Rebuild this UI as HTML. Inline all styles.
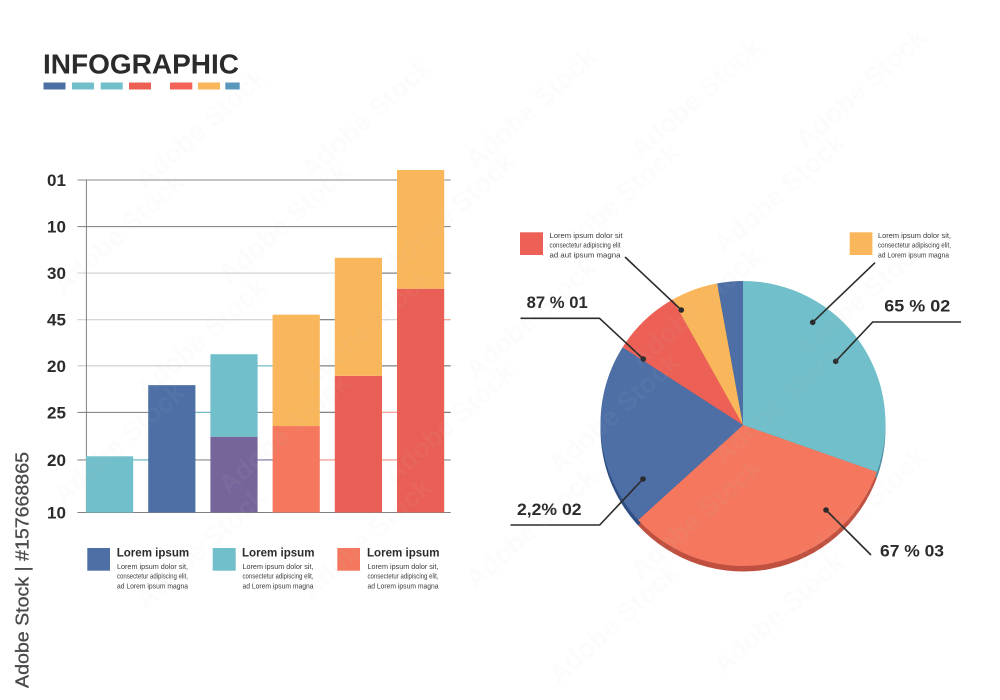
<!DOCTYPE html>
<html lang="en">
<head>
<meta charset="utf-8">
<title>Infographic</title>
<style>
html,body{margin:0;padding:0;background:#fff;width:1000px;height:700px;overflow:hidden}
svg{display:block;overflow:hidden}
text{font-family:"Liberation Sans",sans-serif}
.h{font-weight:700;fill:#2b2b2b}
.s{font-size:7px;fill:#3a3a3a}
.call{fill:none;stroke:#2b2b2b;stroke-width:1.6}
</style>
</head>
<body>
<svg id="root" xmlns="http://www.w3.org/2000/svg" width="1000" height="700" viewBox="0 0 1000 700">
  <g>
    <text class="h" x="43" y="73.3" font-size="28" textLength="196" lengthAdjust="spacingAndGlyphs">INFOGRAPHIC</text>
    <rect x="43.5" y="82.5" width="22" height="7" fill="#4d6fa6"/>
    <rect x="72" y="82.5" width="22" height="7" fill="#70bfca"/>
    <rect x="100.7" y="82.5" width="22" height="7" fill="#70bfca"/>
    <rect x="129" y="82.5" width="22" height="7" fill="#ec6055"/>
    <rect x="170" y="82.5" width="22.3" height="7" fill="#f3635a"/>
    <rect x="198" y="82.5" width="22" height="7" fill="#f9b65a"/>
    <rect x="225.3" y="82.5" width="14.4" height="7" fill="#5a97bd"/>
  </g>

  <g id="bar-chart"></g>

  <g>
    <g>
      <rect x="87.3" y="548" width="22.7" height="22.7" fill="#4d6fa6"/>
      <text class="h" x="116.7" y="556.5" font-size="12" textLength="72.5" lengthAdjust="spacingAndGlyphs">Lorem ipsum</text>
      <text class="s" x="117" y="569" textLength="71" lengthAdjust="spacingAndGlyphs">Lorem ipsum dolor sit,</text>
      <text class="s" x="117" y="578.5" textLength="71" lengthAdjust="spacingAndGlyphs">consectetur adipiscing elit,</text>
      <text class="s" x="117" y="588.5" textLength="71" lengthAdjust="spacingAndGlyphs">ad Lorem ipsum magna</text>
    </g>
    <g>
      <rect x="212.7" y="548" width="23" height="22.7" fill="#70bfca"/>
      <text class="h" x="242" y="556.5" font-size="12" textLength="72.5" lengthAdjust="spacingAndGlyphs">Lorem ipsum</text>
      <text class="s" x="242.5" y="569" textLength="71" lengthAdjust="spacingAndGlyphs">Lorem ipsum dolor sit,</text>
      <text class="s" x="242.5" y="578.5" textLength="71" lengthAdjust="spacingAndGlyphs">consectetur adipiscing elit,</text>
      <text class="s" x="242.5" y="588.5" textLength="71" lengthAdjust="spacingAndGlyphs">ad Lorem ipsum magna</text>
    </g>
    <g>
      <rect x="337.3" y="548" width="22.7" height="22.7" fill="#f4775e"/>
      <text class="h" x="367" y="556.5" font-size="12" textLength="72.5" lengthAdjust="spacingAndGlyphs">Lorem ipsum</text>
      <text class="s" x="367.5" y="569" textLength="71" lengthAdjust="spacingAndGlyphs">Lorem ipsum dolor sit,</text>
      <text class="s" x="367.5" y="578.5" textLength="71" lengthAdjust="spacingAndGlyphs">consectetur adipiscing elit,</text>
      <text class="s" x="367.5" y="588.5" textLength="71" lengthAdjust="spacingAndGlyphs">ad Lorem ipsum magna</text>
    </g>
  </g>

  <g id="pie-chart"></g>

  <g>
    <g>
      <rect x="520" y="232.3" width="23" height="22.7" fill="#ec6055"/>
      <text class="s" x="549.5" y="238" textLength="73" lengthAdjust="spacingAndGlyphs">Lorem ipsum dolor sit</text>
      <text class="s" x="549.5" y="247.5" textLength="71" lengthAdjust="spacingAndGlyphs">consectetur adipiscing elit</text>
      <text class="s" x="549.5" y="257.5" textLength="71" lengthAdjust="spacingAndGlyphs">ad aut ipsum magna</text>
    </g>
    <g>
      <rect x="849.7" y="232.3" width="22.7" height="22.7" fill="#f9b65a"/>
      <text class="s" x="878" y="238" textLength="73" lengthAdjust="spacingAndGlyphs">Lorem ipsum dolor sit,</text>
      <text class="s" x="878" y="247.5" textLength="73" lengthAdjust="spacingAndGlyphs">consectetur adipiscing elit,</text>
      <text class="s" x="878" y="257.5" textLength="71" lengthAdjust="spacingAndGlyphs">ad Lorem ipsum magna</text>
    </g>

    <polyline class="call" points="625,257 681.3,310"/>
    <circle cx="681.3" cy="310" r="2.8" fill="#2b2b2b"/>
    <polyline class="call" points="875,262.7 812.7,322.3"/>
    <circle cx="812.7" cy="322.3" r="2.8" fill="#2b2b2b"/>

    <text class="h" x="526.7" y="308" font-size="16.5" textLength="61" lengthAdjust="spacingAndGlyphs">87 % 01</text>
    <polyline class="call" points="520.5,318.3 599.5,318.3 643.3,359"/>
    <circle cx="643.3" cy="359" r="2.8" fill="#2b2b2b"/>

    <text class="h" x="884.3" y="311.7" font-size="16.5" textLength="66" lengthAdjust="spacingAndGlyphs">65 % 02</text>
    <polyline class="call" points="961,322 872.7,322 835.7,361.3"/>
    <circle cx="835.7" cy="361.3" r="2.8" fill="#2b2b2b"/>

    <text class="h" x="517" y="515" font-size="16.5" textLength="64.5" lengthAdjust="spacingAndGlyphs">2,2% 02</text>
    <polyline class="call" points="510.5,525 599.7,525 643,479"/>
    <circle cx="643" cy="479" r="2.8" fill="#2b2b2b"/>

    <text class="h" x="880" y="556.7" font-size="16.5" textLength="64" lengthAdjust="spacingAndGlyphs">67 % 03</text>
    <polyline class="call" points="826,510 871,555"/>
    <circle cx="826" cy="510" r="2.8" fill="#2b2b2b"/>
  </g>

  <g id="watermark"></g>

  <text x="28.5" y="688" transform="rotate(-90 28.5 688)" font-size="18" fill="#4a4a4a" stroke="#4a4a4a" stroke-width="0.3" textLength="236" lengthAdjust="spacingAndGlyphs">Adobe Stock | #157668865</text>
</svg>

<script>
/* Bar chart data */
var tickLabels = ["10", "20", "25", "20", "45", "30", "10", "01"];
var tickValues = [0, 15.8, 30.1, 44.1, 58, 72, 86, 100];
var tickColors = ["#808080", "#8a8a8a", "#8a8a8a", "#c4c4c4", "#cfcfcf", "#cfcfcf", "#8a8a8a", "#8a8a8a"];
var barLower = [16.9, 38.3, 22.8, 26.0, 41.1, 67.3];
var barUpper = [0, 0, 24.8, 33.5, 35.5, 35.7];
var lowerColors = ["#70bfca", "#4d6fa6", "#75659a", "#f4775e", "#ea5f55", "#ea5f55"];
var upperColors = ["#70bfca", "#4d6fa6", "#70bfca", "#f9b65a", "#f9b65a", "#f9b65a"];
/* Line tints seen in the gap after a bar: tick index, bar index, colour */
var gapTicks = [1, 1, 1, 1, 2, 2, 2, 2, 3, 3, 3, 3, 4, 4, 5, 5];
var gapBars = [0, 2, 3, 4, 1, 3, 4, 5, 2, 3, 4, 5, 3, 5, 4, 5];
var gapColors = ["#70bfca", "#8d80ab", "#f7a096", "#f7a096", "#70bfca", "#808080", "#f7a096", "#808080", "#70bfca", "#808080", "#808080", "#808080", "#808080", "#f7a096", "#808080", "#808080"];

/* Pie chart data, clockwise from twelve o'clock */
var sliceValues = [30.5, 32.6, 20.8, 7.8, 5.3, 2.9];
var sliceColors = ["#70bfca", "#f4775e", "#4d6fa6", "#ec6055", "#f9b65a", "#4d6fa6"];
var sliceRims = ["#4d8ba0", "#bf5040", "#2f4f84", "#bf5040", "#c98f40", "#2f4f84"];
var sliceNames = ["teal", "coral", "blue", "red", "orange", "small-blue"];

var NS = "http://www.w3.org/2000/svg";
function mk(parent, tag, attrs) {
  var el = document.createElementNS(NS, tag);
  for (var k in attrs) el.setAttribute(k, attrs[k]);
  parent.appendChild(el);
  return el;
}

/* Axis functions */
var plotBottom = 512.5, plotHeight = 332.5;
function yScale(v) { return plotBottom - v / 100 * plotHeight; }
function xBar(i) { return 86 + i * 62.2; }
var barWidth = 47.2, axisLeft = 77.5, axisRight = 450.7;

var chart = document.getElementById("bar-chart");

tickLabels.forEach(function (label, i) {
  var y = yScale(tickValues[i]);
  var line = mk(chart, "line", { x1: axisLeft, x2: axisRight, y1: y, y2: y, stroke: tickColors[i], "stroke-width": 1.1 });
  
  
  var t = mk(chart, "text", { x: 47, y: y + 6, "font-size": 17, "font-weight": 700, fill: "#2b2b2b" });
  t.textContent = label;
  
  
});

gapTicks.forEach(function (tick, i) {
  var y = yScale(tickValues[tick]);
  var b = gapBars[i];
  var x2 = b + 1 < barLower.length ? xBar(b + 1) : axisRight;
  var seg = mk(chart, "line", { x1: xBar(b) + barWidth, x2: x2, y1: y, y2: y, stroke: gapColors[i], "stroke-width": 1.2 });
  
  
});

var axisLine = mk(chart, "line", { x1: 86.4, x2: 86.4, y1: yScale(100), y2: plotBottom, stroke: "#808080", "stroke-width": 1 });



barLower.forEach(function (v, i) {
  var lowTop = yScale(v);
  var low = mk(chart, "rect", { x: xBar(i), y: lowTop, width: barWidth, height: plotBottom - lowTop, fill: lowerColors[i] });
  
  
  if (barUpper[i] > 0) {
    var upTop = yScale(v + barUpper[i]);
    var up = mk(chart, "rect", { x: xBar(i), y: upTop, width: barWidth, height: lowTop - upTop, fill: upperColors[i] });
    
    
  }
});

/* Pie */
var pie = document.getElementById("pie-chart");
var cx = 743, cy = 423.5, apexY = 425, r = 142.5, depth = 5.5;
var total = sliceValues.reduce(function (a, b) { return a + b; }, 0);
function angleOf(v) { return v / total * 2 * Math.PI; }
function slicePath(a0, a1, dy) {
  var x0 = cx + r * Math.sin(a0), y0 = cy + dy - r * Math.cos(a0);
  var x1 = cx + r * Math.sin(a1), y1 = cy + dy - r * Math.cos(a1);
  var big = a1 - a0 > Math.PI ? 1 : 0;
  return "M" + cx + " " + (apexY + dy) + "L" + x0 + " " + y0 + "A" + r + " " + r + " 0 " + big + " 1 " + x1 + " " + y1 + "Z";
}
[true, false].forEach(function (isRim) {
  var a = 0;
  sliceValues.forEach(function (v, i) {
    var next = a + angleOf(v);
    var p = mk(pie, "path", {
      d: slicePath(a, next, isRim ? depth : 0),
      fill: isRim ? sliceRims[i] : sliceColors[i]
    });
    
    
    a = next;
  });
});

/* Faint stock watermark, kept inside the frame */
var wm = document.getElementById("watermark");
for (var row = 0; row < 8; row++) {
  for (var col = 0; col < 8; col++) {
    var wx = -40 + col * 165 + (row % 2) * 82;
    var wy = 40 + row * 105 - col * 10;
    if (wx < 70 || wx > 930 || wy < 70 || wy > 630) continue;
    var w = mk(wm, "text", {
      x: wx, y: wy,
      "font-size": 27, "font-weight": 700,
      fill: "rgba(205,205,205,0.06)",
      transform: "rotate(-42 " + wx + " " + wy + ")",
      "text-anchor": "middle"
    });
    w.textContent = "Adobe Stock";
    
    
  }
}
</script>
</body>
</html>
